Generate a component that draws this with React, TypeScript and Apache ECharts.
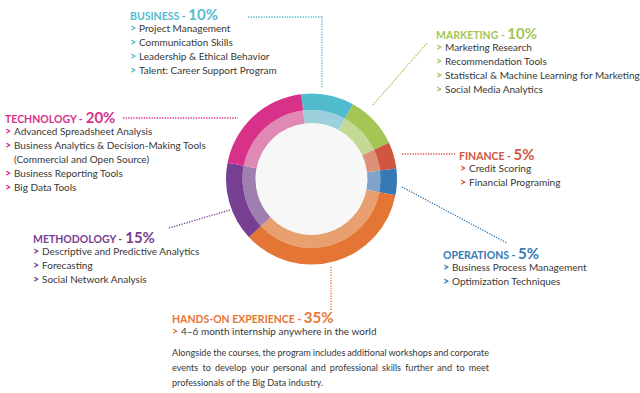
import React, { useEffect, useRef } from 'react';
import * as echarts from 'echarts';

const categories = ['BUSINESS', 'MARKETING', 'FINANCE', 'OPERATIONS', 'HANDS-ON EXPERIENCE', 'METHODOLOGY', 'TECHNOLOGY'];
const shares = [10, 10, 5, 5, 35, 15, 20];
const darkColors = ['#52bccf', '#a3c655', '#d1553f', '#3579b5', '#e57535', '#773f91', '#d8318a'];
const lightColors = ['#9bd0dc', '#c4d996', '#dd9179', '#82a4cb', '#e8a070', '#9e7fb0', '#e089b5'];

const businessItems = ['Project Management', 'Communication Skills', 'Leadership & Ethical Behavior', 'Talent: Career Support Program'];
const marketingItems = ['Marketing Research', 'Recommendation Tools', 'Statistical & Machine Learning for Marketing', 'Social Media Analytics'];
const financeItems = ['Credit Scoring', 'Financial Programing'];
const operationsItems = ['Business Process Management', 'Optimization Techniques'];
const handsOnItems = ['4–6 month internship anywhere in the world'];
const methodologyItems = ['Descriptive and Predictive Analytics', 'Forecasting', 'Social Network Analysis'];
const technologyItems = ['Advanced Spreadsheet Analysis', 'Business Analytics & Decision-Making Tools\n(Commercial and Open Source)', 'Business Reporting Tools', 'Big Data Tools'];
const itemLists = [businessItems, marketingItems, financeItems, operationsItems, handsOnItems, methodologyItems, technologyItems];

const paragraph = [
  'Alongside the courses, the program includes additional workshops and corporate',
  'events to develop your personal and professional skills further and to meet',
  'professionals of the Big Data industry.',
];

const FONT = 'Lato, "Open Sans", sans-serif';
const TEXT_COLOR = '#383838';
const ITEM_SIZE = 10;
const LINE_H = 13.8;

// layout (positions only)
const blockPos = [
  { x: 130, y: 14, ix: 130 },
  { x: 436, y: 33, ix: 436 },
  { x: 459, y: 154, ix: 460 },
  { x: 443, y: 253, ix: 443 },
  { x: 172, y: 317, ix: 172 },
  { x: 33, y: 237, ix: 33 },
  { x: 5, y: 117, ix: 5 },
];
const leaders = [
  [[248, 17], [322, 17], [322, 87]],
  [[373, 105], [427, 43]],
  [[402, 154], [455, 154]],
  [[402, 187], [507, 243]],
  [[331, 267], [331, 311]],
  [[169, 228], [230, 210]],
  [[123, 118], [238, 118]],
];

function measure(text: string, font: string): number {
  const c = document.createElement('canvas').getContext('2d')!;
  c.font = font;
  return c.measureText(text).width;
}

export default function App() {
  const ref = useRef<HTMLDivElement>(null);
  useEffect(() => {
    const chart = echarts.init(ref.current!, null, { renderer: 'svg' });
    const graphics: any[] = [];

    categories.forEach((cat, i) => {
      const p = blockPos[i];
      const col = darkColors[i];
      graphics.push({
        type: 'text', x: p.x, y: p.y,
        style: {
          text: `{a|${cat} - }{b|${shares[i]}%}`,
          verticalAlign: 'middle',
          rich: {
            a: { fontFamily: FONT, fontSize: 10.5, fontWeight: 'bold', fill: col, verticalAlign: 'bottom' },
            b: { fontFamily: FONT, fontSize: 15, fontWeight: 'bold', fill: col, verticalAlign: 'bottom' },
          },
        },
      });
      let line = 1;
      itemLists[i].forEach((item) => {
        const parts = item.split('\n');
        parts.forEach((part, k) => {
          const y = p.y + line * LINE_H + 0.5;
          if (k === 0) {
            graphics.push({
              type: 'text', x: p.ix, y,
              style: { text: '>', fontFamily: FONT, fontSize: 10.5, fontWeight: 'bold', fill: col, verticalAlign: 'middle' },
            });
          }
          graphics.push({
            type: 'text', x: p.ix + 9, y,
            style: { text: part, fontFamily: FONT, fontSize: ITEM_SIZE, fill: TEXT_COLOR, verticalAlign: 'middle' },
          });
          line++;
        });
      });
      graphics.push({
        type: 'polyline',
        shape: { points: leaders[i] },
        style: { stroke: col, lineWidth: 1.3, lineDash: [1.3, 1.3], fill: null },
      });
    });

    // justified paragraph
    const px0 = 172;
    const pWidth = 317;
    let pSize = ITEM_SIZE;
    const minGapFactor = 0.2;
    const fits = (s: number) => paragraph.slice(0, -1).every((ln) => {
      const words = ln.split(' ');
      const total = words.reduce((a, w) => a + measure(w, `${s}px Lato`), 0);
      return total + (words.length - 1) * s * minGapFactor <= pWidth;
    });
    while (!fits(pSize) && pSize > 7) pSize -= 0.1;
    const pFont = `${pSize}px Lato`;
    paragraph.forEach((ln, li) => {
      const y = 352 + li * 15;
      if (li === paragraph.length - 1) {
        graphics.push({ type: 'text', x: px0, y, style: { text: ln, fontFamily: FONT, fontSize: pSize, fill: TEXT_COLOR, verticalAlign: 'middle' } });
        return;
      }
      const words = ln.split(' ');
      const widths = words.map((w) => measure(w, pFont));
      const total = widths.reduce((a, b) => a + b, 0);
      const gap = (pWidth - total) / (words.length - 1);
      let x = px0;
      words.forEach((w, k) => {
        graphics.push({ type: 'text', x, y, style: { text: w, fontFamily: FONT, fontSize: pSize, fill: TEXT_COLOR, verticalAlign: 'middle' } });
        x += widths[k] + gap;
      });
    });

    const center = [311.5, 179];
    const data = (colors: string[]) => categories.map((c, i) => ({ name: c, value: shares[i], itemStyle: { color: colors[i] } }));
    chart.setOption({
      animation: false,
      backgroundColor: '#ffffff',
      series: [
        { type: 'pie', center, radius: [0, 56], silent: true, label: { show: false }, data: [{ value: 1, itemStyle: { color: '#f7f7f7' } }] },
        { type: 'pie', center, radius: [56, 69], startAngle: 97, silent: true, label: { show: false }, labelLine: { show: false }, data: data(lightColors) },
        { type: 'pie', center, radius: [69, 85.5], startAngle: 97, silent: true, label: { show: false }, labelLine: { show: false }, data: data(darkColors) },
      ],
      graphic: graphics,
    });
    return () => chart.dispose();
  }, []);
  return <div ref={ref} style={{ position: 'absolute', left: 0, top: 0, width: 640, height: 393, background: '#fff' }} />;
}
